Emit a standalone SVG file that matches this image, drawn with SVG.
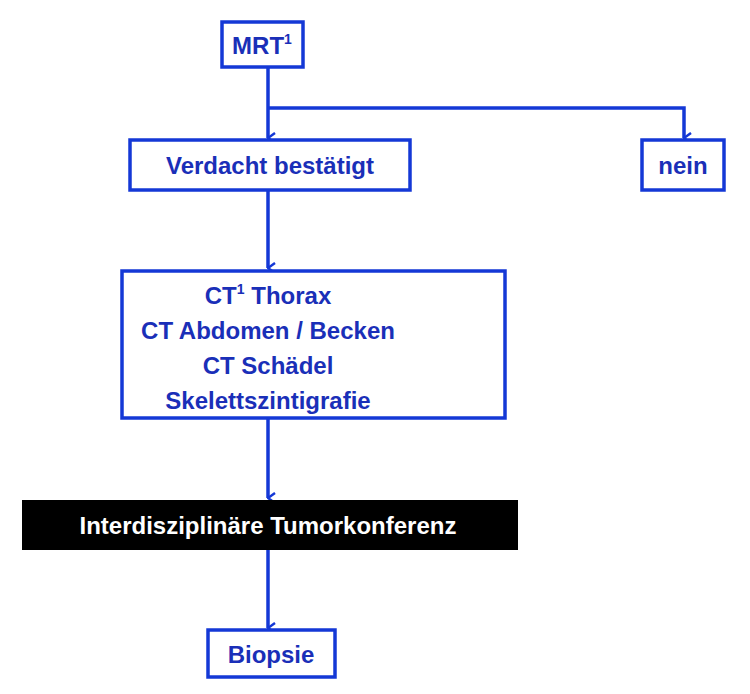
<svg xmlns="http://www.w3.org/2000/svg" width="750" height="694" viewBox="0 0 750 694">
<style>
.box{fill:#fff;stroke:#1438d6;stroke-width:3.5}
.t{font-family:"Liberation Sans",Arial,sans-serif;font-weight:bold;font-size:24px;fill:#1a2fb8;text-anchor:middle}
.c{fill:none;stroke:#1438d6;stroke-width:3.5}
</style>
<defs><marker id="a" viewBox="0 0 12 12" refX="6" refY="11" markerWidth="12" markerHeight="12" markerUnits="userSpaceOnUse" orient="auto-start-reverse"><path d="M1,4 L6,11 L11,4" fill="none" stroke="#1438d6" stroke-width="2.5"/></marker></defs>
<rect width="750" height="694" fill="#fff"/>
<g id="connectors">
<path class="c" d="M268,67 V138" marker-end="url(#a)"/>
<path class="c" d="M268,108 H684 V138" marker-end="url(#a)"/>
<path class="c" d="M268,190 V268" marker-end="url(#a)"/>
<path class="c" d="M268,418 V498" marker-end="url(#a)"/>
<path class="c" d="M268,550 V628" marker-end="url(#a)"/>
</g>
<g id="mrt"><rect class="box" x="222" y="22" width="81" height="45"/><text class="t" x="262" y="54">MRT<tspan font-size="14" dy="-10">1</tspan></text></g>
<g id="verdacht"><rect class="box" x="130" y="140" width="280" height="50"/><text class="t" x="270" y="174">Verdacht bestätigt</text></g>
<g id="nein"><rect class="box" x="642" y="140" width="82" height="50"/><text class="t" x="683" y="174">nein</text></g>
<g id="ct"><rect class="box" x="122" y="271" width="383" height="147"/>
<text class="t" x="268" y="304">CT<tspan font-size="14" dy="-10">1</tspan><tspan dy="10"> Thorax</tspan></text>
<text class="t" x="268" y="339">CT Abdomen / Becken</text>
<text class="t" x="268" y="374">CT Schädel</text>
<text class="t" x="268" y="409">Skelettszintigrafie</text></g>
<g id="tumor"><rect x="22" y="500" width="496" height="50" fill="#000"/><text class="t" x="268" y="534" style="fill:#fff">Interdisziplinäre Tumorkonferenz</text></g>
<g id="biopsie"><rect class="box" x="208" y="630" width="127" height="47"/><text class="t" x="271" y="663">Biopsie</text></g>
</svg>
